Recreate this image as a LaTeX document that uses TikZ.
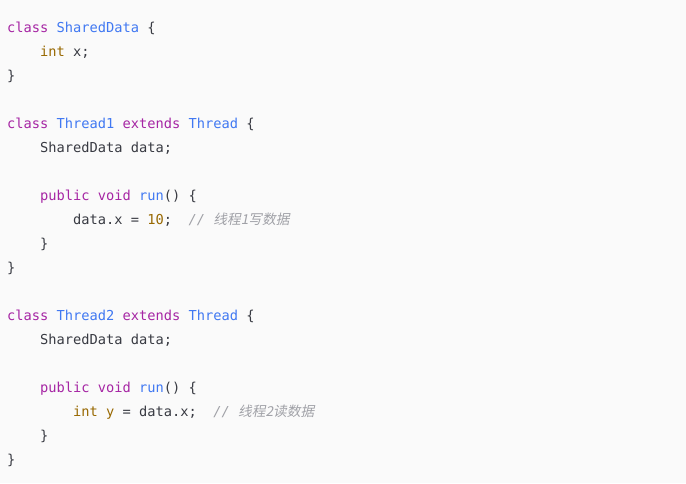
\documentclass[tikz,border=0pt]{standalone}
\usepackage{fontspec}
\setmonofont{DejaVu Sans Mono}
\newfontfamily\cjk[FakeSlant=0.2]{Noto Sans CJK SC}
\definecolor{bg}{HTML}{FAFAFA}
\definecolor{kw}{HTML}{A626A4}
\definecolor{ty}{HTML}{4078F2}
\definecolor{nm}{HTML}{986801}
\definecolor{tx}{HTML}{383A42}
\definecolor{cm}{HTML}{A0A1A7}
\newcommand{\K}[1]{\textcolor{kw}{#1}}
\newcommand{\T}[1]{\textcolor{ty}{#1}}
\newcommand{\N}[1]{\textcolor{nm}{#1}}
\newcommand{\C}[1]{\textcolor{cm}{\itshape #1}}
\begin{document}
\begin{tikzpicture}[x=1pt,y=-1pt,
  code/.style={anchor=base west,inner sep=0pt,font=\ttfamily\fontsize{13.7}{16}\selectfont,text=tx}]
\fill[bg] (0,0) rectangle (686,483);
\def\ch{8.25}
\node[code] (l1) at (7,32) {\K{class} \T{SharedData} \{};
\node[code] (l2) at (40,56) {\N{int} x;};
\node[code] (l3) at (7,80) {\}};
\node[code] (l5) at (7,128) {\K{class} \T{Thread1} \K{extends} \T{Thread} \{};
\node[code] (l6) at (40,152) {SharedData data;};
\node[code] (l8) at (40,200) {\K{public} \K{void} \T{run}() \{};
\node[code] (l9) at (73,224) {data.x = \N{10};\ \ \C{// {\cjk 线程1写数据}}};
\node[code] (l10) at (40,248) {\}};
\node[code] (l11) at (7,272) {\}};
\node[code] (l13) at (7,320) {\K{class} \T{Thread2} \K{extends} \T{Thread} \{};
\node[code] (l14) at (40,344) {SharedData data;};
\node[code] (l16) at (40,392) {\K{public} \K{void} \T{run}() \{};
\node[code] (l17) at (73,416) {\N{int} \N{y} = data.x;\ \ \C{// {\cjk 线程2读数据}}};
\node[code] (l18) at (40,440) {\}};
\node[code] (l19) at (7,464) {\}};
\end{tikzpicture}
\end{document}
